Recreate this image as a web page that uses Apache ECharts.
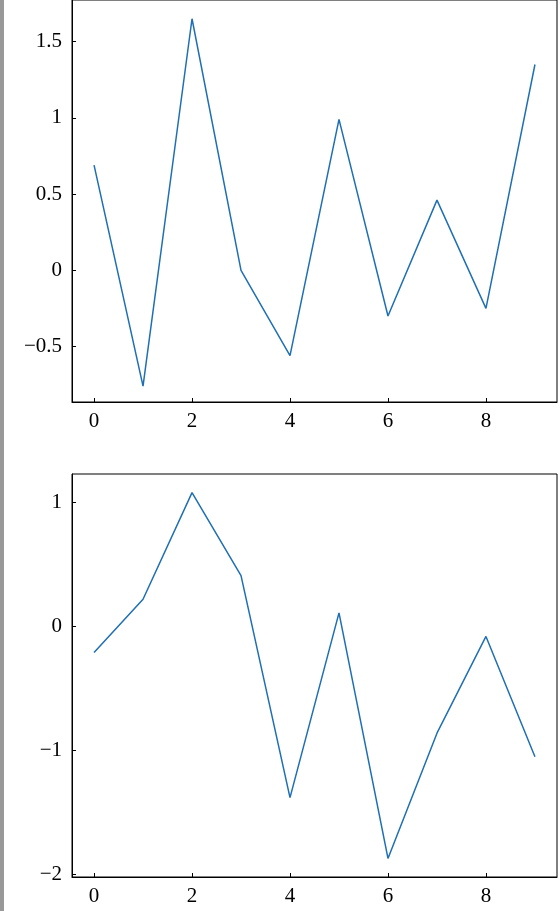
<!DOCTYPE html>
<html>
<head>
<meta charset="utf-8">
<script src="https://cdn.jsdelivr.net/npm/echarts@6/dist/echarts.min.js"></script>
<style>
html, body { margin: 0; padding: 0; background: #fff; }
#main { width: 560px; height: 911px; border-left: 4px solid #999; box-sizing: border-box; }
</style>
</head>
<body>
<div id="main"></div>
<script>
var xs = [0, 1, 2, 3, 4, 5, 6, 7, 8, 9];
var top_y = [0.69, -0.76, 1.65, 0.0, -0.56, 0.99, -0.30, 0.46, -0.25, 1.35];
var bot_y = [-0.21, 0.22, 1.08, 0.41, -1.38, 0.11, -1.87, -0.86, -0.08, -1.05];
var xTicks = [0, 2, 4, 6, 8];
var topTicks = [-0.5, 0, 0.5, 1, 1.5];
var botTicks = [-2, -1, 0, 1];

var myChart = echarts.init(document.getElementById("main"));
var font = { fontFamily: 'Liberation Serif', fontSize: 21, color: '#000' };
function fmt(v) { return v < 0 ? '\u2212' + Math.abs(v) : String(v); }
function xAx(idx) {
	return {
		type: 'value', gridIndex: idx, min: -0.45, max: 9.45,
		axisLine: { show: true, onZero: false, lineStyle: { color: '#000', width: 1 } },
		splitLine: { show: false },
		axisTick: { inside: true, length: 4, customValues: xTicks, lineStyle: { color: '#000' } },
		axisLabel: Object.assign({ customValues: xTicks, formatter: fmt, margin: 9 }, font)
	};
}
function yAx(idx, min, max, ticks) {
	return {
		type: 'value', gridIndex: idx, min: min, max: max,
		axisLine: { show: true, onZero: false, lineStyle: { color: '#000', width: 1 } },
		splitLine: { show: false },
		axisTick: { inside: true, length: 4, customValues: ticks, lineStyle: { color: '#000' } },
		axisLabel: Object.assign({ customValues: ticks, formatter: fmt, margin: 10 }, font)
	};
}
var option = {
	animation: false,
	grid: [
		{ left: 68, right: 3, top: -4, height: 406, show: true, borderColor: '#000', borderWidth: 1 },
		{ left: 68, right: 3, top: 474, height: 403, show: true, borderColor: '#000', borderWidth: 1 }
	],
	xAxis: [xAx(0), xAx(1)],
	yAxis: [yAx(0, -0.864, 1.773, topTicks), yAx(1, -2.02, 1.23, botTicks)],
	series: [
		{ type: 'line', xAxisIndex: 0, yAxisIndex: 0, data: xs.map(function (x, i) { return [x, top_y[i]]; }),
		  showSymbol: false, lineStyle: { color: '#1f6fb4', width: 1.5 } },
		{ type: 'line', xAxisIndex: 1, yAxisIndex: 1, data: xs.map(function (x, i) { return [x, bot_y[i]]; }),
		  showSymbol: false, lineStyle: { color: '#1f6fb4', width: 1.5 } }
	]
};
myChart.setOption(option, true);
</script>
</body>
</html>
